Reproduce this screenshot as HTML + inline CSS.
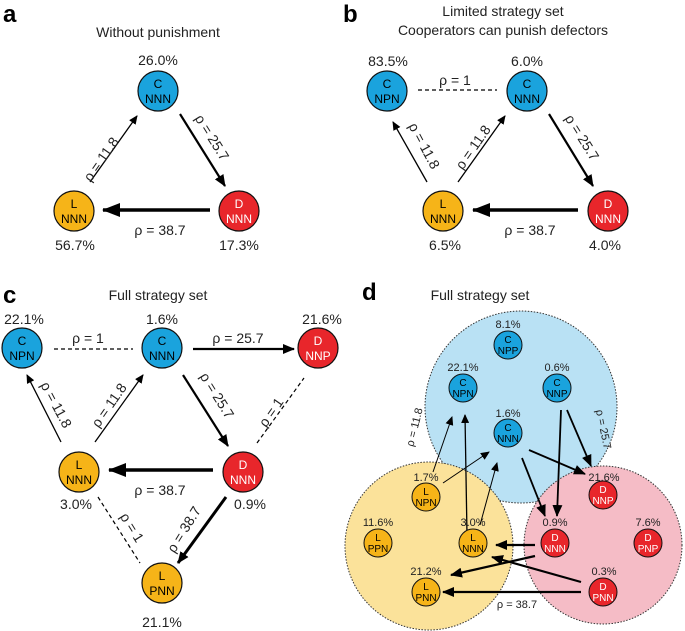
<!DOCTYPE html>
<html><head><meta charset="utf-8"><style>
html,body{margin:0;padding:0;background:#fff}
svg{display:block}
text{font-family:"Liberation Sans",sans-serif;}
.p{font-size:14px;text-anchor:middle;fill:#222}
.t{font-size:14px;text-anchor:middle;fill:#222}
.n{font-size:12px;text-anchor:middle}
.s{font-size:10px;text-anchor:middle}
.L{font-size:24px;font-weight:bold}
.r{font-size:14px;fill:#222}
.rs{font-size:11px;fill:#222}
</style></head><body>
<svg width="685" height="631" viewBox="0 0 685 631" xmlns="http://www.w3.org/2000/svg">
<defs>
<marker id="m" markerUnits="userSpaceOnUse" markerWidth="12" markerHeight="10" refX="11" refY="5" orient="auto"><path d="M0,0 L12,5 L0,10 z" fill="#000"/></marker>
<marker id="mb" markerUnits="userSpaceOnUse" markerWidth="18" markerHeight="14" refX="17" refY="7" orient="auto"><path d="M0,0 L18,7 L0,14 z" fill="#000"/></marker>
<marker id="ms" markerUnits="userSpaceOnUse" markerWidth="9" markerHeight="8" refX="8" refY="4" orient="auto"><path d="M0,0 L9,4 L0,8 z" fill="#000"/></marker>
</defs>

<!-- Panel a -->
<text x="3" y="22" class="L">a</text>
<text x="158" y="37" class="t">Without punishment</text>
<text x="158" y="65" class="p">26.0%</text>
<text x="75" y="250" class="p">56.7%</text>
<text x="239" y="250" class="p">17.3%</text>
<line x1="90" y1="182" x2="137" y2="116" stroke="#000" stroke-width="1.3" marker-end="url(#ms)"/>
<line x1="180" y1="114" x2="225" y2="186" stroke="#000" stroke-width="2.2" marker-end="url(#m)"/>
<line x1="210" y1="210" x2="103" y2="210" stroke="#000" stroke-width="3.5" marker-end="url(#mb)"/>
<text class="r" transform="translate(105,162) rotate(-55)" text-anchor="middle">ρ = 11.8</text>
<text class="r" transform="translate(208,140) rotate(58)" text-anchor="middle">ρ = 25.7</text>
<text x="160" y="235" class="r" text-anchor="middle">ρ = 38.7</text>
<g stroke="#111" stroke-width="1.2">
<circle cx="158" cy="91" r="20" fill="#1aa3dd"/>
<circle cx="74" cy="211" r="20" fill="#f6b418"/>
<circle cx="239" cy="211" r="20" fill="#e8262b"/>
</g>
<text x="158" y="88" class="n">C</text><text x="158" y="103" class="n">NNN</text>
<text x="74" y="208" class="n">L</text><text x="74" y="223" class="n">NNN</text>
<text x="239" y="208" class="n" fill="#fff">D</text><text x="239" y="223" class="n" fill="#fff">NNN</text>

<!-- Panel b -->
<text x="343" y="22" class="L">b</text>
<text x="503" y="16" class="t">Limited strategy set</text>
<text x="503" y="35" class="t">Cooperators can punish defectors</text>
<text x="388" y="66" class="p">83.5%</text>
<text x="527" y="66" class="p">6.0%</text>
<text x="445" y="250" class="p">6.5%</text>
<text x="605" y="250" class="p">4.0%</text>
<line x1="418" y1="90" x2="497" y2="90" stroke="#000" stroke-width="1.2" stroke-dasharray="4,3"/>
<text x="455" y="85" class="r" text-anchor="middle">ρ = 1</text>
<line x1="427" y1="182" x2="393" y2="122" stroke="#000" stroke-width="1.3" marker-end="url(#ms)"/>
<line x1="458" y1="182" x2="505" y2="116" stroke="#000" stroke-width="1.3" marker-end="url(#ms)"/>
<line x1="549" y1="114" x2="593" y2="186" stroke="#000" stroke-width="2.2" marker-end="url(#m)"/>
<line x1="578" y1="210" x2="473" y2="210" stroke="#000" stroke-width="3.5" marker-end="url(#mb)"/>
<text class="r" transform="translate(420,148) rotate(62)" text-anchor="middle">ρ = 11.8</text>
<text class="r" transform="translate(477,150) rotate(-55)" text-anchor="middle">ρ = 11.8</text>
<text class="r" transform="translate(578,140) rotate(58)" text-anchor="middle">ρ = 25.7</text>
<text x="530" y="235" class="r" text-anchor="middle">ρ = 38.7</text>
<g stroke="#111" stroke-width="1.2">
<circle cx="387" cy="91" r="20" fill="#1aa3dd"/>
<circle cx="527" cy="91" r="20" fill="#1aa3dd"/>
<circle cx="443" cy="211" r="20" fill="#f6b418"/>
<circle cx="608" cy="211" r="20" fill="#e8262b"/>
</g>
<text x="387" y="88" class="n">C</text><text x="387" y="103" class="n">NPN</text>
<text x="527" y="88" class="n">C</text><text x="527" y="103" class="n">NNN</text>
<text x="443" y="208" class="n">L</text><text x="443" y="223" class="n">NNN</text>
<text x="608" y="208" class="n" fill="#fff">D</text><text x="608" y="223" class="n" fill="#fff">NNN</text>

<!-- Panel c -->
<text x="3" y="303" class="L">c</text>
<text x="158" y="300" class="t">Full strategy set</text>
<text x="24" y="324" class="p">22.1%</text>
<text x="162" y="324" class="p">1.6%</text>
<text x="322" y="324" class="p">21.6%</text>
<text x="76" y="509" class="p">3.0%</text>
<text x="250" y="509" class="p">0.9%</text>
<text x="162" y="627" class="p">21.1%</text>
<line x1="54" y1="349" x2="133" y2="349" stroke="#000" stroke-width="1.2" stroke-dasharray="4,3"/>
<text x="88" y="343" class="r" text-anchor="middle">ρ = 1</text>
<line x1="193" y1="349" x2="294" y2="349" stroke="#000" stroke-width="2.2" marker-end="url(#m)"/>
<text x="238" y="343" class="r" text-anchor="middle">ρ = 25.7</text>
<line x1="61" y1="442" x2="27" y2="375" stroke="#000" stroke-width="1.3" marker-end="url(#ms)"/>
<line x1="95" y1="442" x2="143" y2="375" stroke="#000" stroke-width="1.3" marker-end="url(#ms)"/>
<line x1="183" y1="375" x2="228" y2="446" stroke="#000" stroke-width="2.2" marker-end="url(#m)"/>
<line x1="257" y1="443" x2="304" y2="378" stroke="#000" stroke-width="1.2" stroke-dasharray="4,3"/>
<line x1="213" y1="470" x2="109" y2="470" stroke="#000" stroke-width="3.5" marker-end="url(#mb)"/>
<text x="160" y="495" class="r" text-anchor="middle">ρ = 38.7</text>
<line x1="226" y1="497" x2="178" y2="563" stroke="#000" stroke-width="3" marker-end="url(#m)"/>
<line x1="98" y1="497" x2="140" y2="563" stroke="#000" stroke-width="1.2" stroke-dasharray="4,3"/>
<text class="r" transform="translate(52,407) rotate(62)" text-anchor="middle">ρ = 11.8</text>
<text class="r" transform="translate(113,408) rotate(-55)" text-anchor="middle">ρ = 11.8</text>
<text class="r" transform="translate(213,398) rotate(58)" text-anchor="middle">ρ = 25.7</text>
<text class="r" transform="translate(275,415) rotate(-55)" text-anchor="middle">ρ = 1</text>
<text class="r" transform="translate(188,532) rotate(-58)" text-anchor="middle">ρ = 38.7</text>
<text class="r" transform="translate(128,530) rotate(58)" text-anchor="middle">ρ = 1</text>
<g stroke="#111" stroke-width="1.2">
<circle cx="22" cy="348" r="20" fill="#1aa3dd"/>
<circle cx="162" cy="348" r="20" fill="#1aa3dd"/>
<circle cx="318" cy="348" r="20" fill="#e8262b"/>
<circle cx="79" cy="472" r="20" fill="#f6b418"/>
<circle cx="243" cy="472" r="20" fill="#e8262b"/>
<circle cx="162" cy="583" r="20" fill="#f6b418"/>
</g>
<text x="22" y="345" class="n">C</text><text x="22" y="360" class="n">NPN</text>
<text x="162" y="345" class="n">C</text><text x="162" y="360" class="n">NNN</text>
<text x="318" y="345" class="n" fill="#fff">D</text><text x="318" y="360" class="n" fill="#fff">NNP</text>
<text x="79" y="469" class="n">L</text><text x="79" y="484" class="n">NNN</text>
<text x="243" y="469" class="n" fill="#fff">D</text><text x="243" y="484" class="n" fill="#fff">NNN</text>
<text x="162" y="580" class="n">L</text><text x="162" y="595" class="n">PNN</text>

<!-- Panel d -->
<text x="362" y="300" class="L">d</text>
<text x="480" y="300" class="t">Full strategy set</text>
<circle cx="521" cy="407" r="96" fill="#b9e1f4" stroke="#333" stroke-width="1" stroke-dasharray="1.5,1.5"/>
<circle cx="429" cy="546" r="84" fill="#fbe29a" stroke="#333" stroke-width="1" stroke-dasharray="1.5,1.5"/>
<circle cx="603" cy="545" r="79" fill="#f5bcc6" stroke="#333" stroke-width="1" stroke-dasharray="1.5,1.5"/>
<g class="rs" text-anchor="middle">
<text x="508" y="328">8.1%</text>
<text x="463" y="371">22.1%</text>
<text x="557" y="371">0.6%</text>
<text x="508" y="417">1.6%</text>
<text x="426" y="481">1.7%</text>
<text x="378" y="526">11.6%</text>
<text x="473" y="526">3.0%</text>
<text x="426" y="575">21.2%</text>
<text x="604" y="481">21.6%</text>
<text x="555" y="526">0.9%</text>
<text x="648" y="526">7.6%</text>
<text x="604" y="575">0.3%</text>
</g>
<g stroke="#000" fill="none">
<line x1="433" y1="472" x2="452" y2="417" stroke-width="1" marker-end="url(#ms)"/>
<line x1="443" y1="483" x2="489" y2="452" stroke-width="1" marker-end="url(#ms)"/>
<line x1="467" y1="535" x2="465" y2="415" stroke-width="1.3" marker-end="url(#ms)"/>
<line x1="480" y1="525" x2="497" y2="463" stroke-width="1" marker-end="url(#ms)"/>
<line x1="522" y1="458" x2="545" y2="516" stroke-width="1.8" marker-end="url(#m)"/>
<line x1="529" y1="450" x2="585" y2="474" stroke-width="1.8" marker-end="url(#m)"/>
<line x1="561" y1="410" x2="557" y2="516" stroke-width="1.8" marker-end="url(#m)"/>
<line x1="567" y1="410" x2="591" y2="466" stroke-width="1.8" marker-end="url(#m)"/>
<line x1="535" y1="545" x2="496" y2="545" stroke-width="2.2" marker-end="url(#m)"/>
<line x1="535" y1="556" x2="451" y2="575" stroke-width="2.2" marker-end="url(#m)"/>
<line x1="581" y1="582" x2="492" y2="557" stroke-width="2.2" marker-end="url(#m)"/>
<line x1="581" y1="592" x2="443" y2="592" stroke-width="2.2" marker-end="url(#m)"/>
</g>
<text class="rs" transform="translate(418,428) rotate(-76)" text-anchor="middle">ρ = 11.8</text>
<text class="rs" transform="translate(600,430) rotate(78)" text-anchor="middle">ρ = 25.7</text>
<text x="517" y="608" class="rs" text-anchor="middle">ρ = 38.7</text>
<g stroke="#111" stroke-width="1">
<circle cx="508" cy="345" r="14" fill="#1aa3dd"/>
<circle cx="463" cy="388" r="14" fill="#1aa3dd"/>
<circle cx="557" cy="388" r="14" fill="#1aa3dd"/>
<circle cx="508" cy="433" r="14" fill="#1aa3dd"/>
<circle cx="426" cy="497" r="14" fill="#f6b418"/>
<circle cx="378" cy="543" r="14" fill="#f6b418"/>
<circle cx="473" cy="543" r="14" fill="#f6b418"/>
<circle cx="426" cy="592" r="14" fill="#f6b418"/>
<circle cx="603" cy="495" r="14" fill="#e8262b"/>
<circle cx="555" cy="543" r="14" fill="#e8262b"/>
<circle cx="648" cy="543" r="14" fill="#e8262b"/>
<circle cx="603" cy="592" r="14" fill="#e8262b"/>
</g>
<g class="s">
<text x="508" y="343">C</text><text x="508" y="354">NPP</text>
<text x="463" y="386">C</text><text x="463" y="397">NPN</text>
<text x="557" y="386">C</text><text x="557" y="397">NNP</text>
<text x="508" y="431">C</text><text x="508" y="442">NNN</text>
<text x="426" y="495">L</text><text x="426" y="506">NPN</text>
<text x="378" y="541">L</text><text x="378" y="552">PPN</text>
<text x="473" y="541">L</text><text x="473" y="552">NNN</text>
<text x="426" y="590">L</text><text x="426" y="601">PNN</text>
</g>
<g class="s" fill="#fff">
<text x="603" y="493">D</text><text x="603" y="504">NNP</text>
<text x="555" y="541">D</text><text x="555" y="552">NNN</text>
<text x="648" y="541">D</text><text x="648" y="552">PNP</text>
<text x="603" y="590">D</text><text x="603" y="601">PNN</text>
</g>
</svg>
</body></html>
